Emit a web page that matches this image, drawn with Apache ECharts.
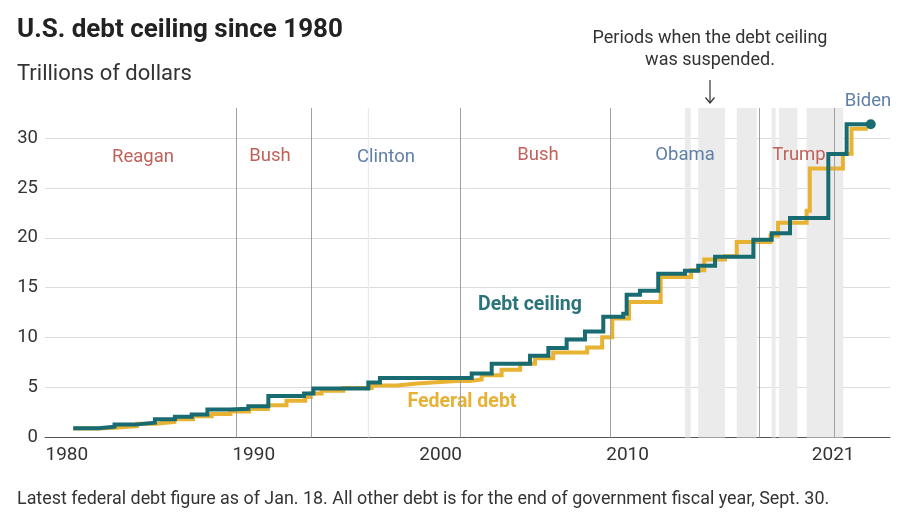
<!DOCTYPE html>
<html><head><meta charset="utf-8">
<script src="https://cdn.jsdelivr.net/npm/echarts@6/dist/echarts.min.js"></script>
<style>html,body{margin:0;padding:0;background:#fff}#c{width:900px;height:518px}</style>
</head><body><div id="c"></div>
<script>
// ---- data (decimal years, trillions of dollars) ----
const ceilingYears  = [1980.34, 1981.68, 1982.55, 1983.64, 1984.71, 1985.78, 1986.68, 1987.52, 1988.7, 1989.71, 1990.78, 1992.69, 1993.19, 1996.13, 1996.75, 2001.66, 2002.73, 2004.78, 2005.76, 2006.74, 2007.72, 2008.70, 2009.77, 2009.95, 2010.66, 2011.64, 2013.07, 2013.78, 2014.68, 2016.73, 2017.71, 2018.69, 2020.74, 2021.72, 2023.01];
const ceilingValues = [0.92, 1.08, 1.29, 1.49, 1.82, 2.08, 2.30, 2.80, 2.87, 3.12, 4.15, 4.40, 4.90, 5.50, 5.95, 6.40, 7.38, 8.18, 8.97, 9.82, 10.62, 12.10, 12.40, 14.29, 14.69, 16.39, 16.70, 17.21, 18.11, 19.81, 20.46, 21.99, 28.40, 31.38, 31.38];

const debtYears  = [1980.34, 1981.75, 1982.75, 1983.75, 1984.75, 1985.75, 1986.75, 1987.75, 1988.75, 1989.75, 1990.75, 1991.75, 1992.75, 1993.05, 1993.63, 1994.79, 1996.31, 1997.65, 1998.75, 1999.75, 2000.86, 2001.55, 2002.19, 2003.26, 2004.25, 2005.05, 2006.02, 2007.84, 2008.64, 2009.18, 2010.08, 2011.77, 2013.40, 2014.10, 2015.21, 2015.84, 2017.65, 2018.05, 2019.58, 2019.75, 2021.52, 2021.98, 2022.86];
const debtValues = [0.91, 1.00, 1.14, 1.38, 1.57, 1.82, 2.13, 2.35, 2.60, 2.86, 3.23, 3.67, 4.06, 4.41, 4.69, 4.97, 5.22, 5.41, 5.53, 5.66, 5.67, 5.81, 6.23, 6.78, 7.38, 7.93, 8.51, 9.01, 10.03, 11.91, 13.56, 16.07, 16.74, 17.82, 18.15, 19.57, 20.24, 21.52, 22.72, 26.95, 28.43, 30.93, 30.93];

const suspensionStarts = [1996.10, 2013.07, 2013.78, 2015.84, 2017.71, 2018.10, 2019.58];
const suspensionEnds   = [1996.17, 2013.38, 2015.21, 2016.91, 2017.92, 2019.08, 2021.54];

const presidentStarts = [1989.05, 1993.05, 2001.05, 2009.05, 2017.05, 2021.05];
const presidentNames  = ['Reagan', 'Bush', 'Clinton', 'Bush', 'Obama', 'Trump', 'Biden'];
const presidentParty  = ['R', 'R', 'D', 'R', 'D', 'R', 'D'];

const xTickLabels = [1980, 1990, 2000, 2010, 2021];
const yTickLabels = [0, 5, 10, 15, 20, 25, 30];

// ---- derived structures ----
const TEAL = '#186b70', GOLD = '#e8b232', RED = '#c0625a', BLUE = '#5f7fa8';
const pairs = (xs, vs) => xs.map((x, i) => [x, vs[i]]);
function stepAt(xs, vs, x) { let v = null; for (let i = 0; i < xs.length; i++) { if (xs[i] <= x + 1e-9) v = vs[i]; else break; } return v; }
const lo = Math.max(ceilingYears[0], debtYears[0]);
const hi = Math.min(ceilingYears[ceilingYears.length - 1], debtYears[debtYears.length - 1]);
const union = Array.from(new Set(ceilingYears.concat(debtYears).filter(x => x >= lo && x <= hi))).sort((a, b) => a - b);
const fillLow = union.map(x => [x, Math.min(stepAt(ceilingYears, ceilingValues, x), stepAt(debtYears, debtValues, x))]);
const fillGap = union.map(x => [x, Math.abs(stepAt(ceilingYears, ceilingValues, x) - stepAt(debtYears, debtValues, x))]);

const chart = echarts.init(document.getElementById('c'), null, { renderer: 'canvas' });
const FONT = 'Roboto, "Open Sans", sans-serif';

const presLabelPos = [[143, 157], [270, 156], [386, 157], [538, 155], [685, 155], [799, 155], [868, 101]];
const graphics = [
  { type: 'text', x: 17, y: 30, style: { text: 'U.S. debt ceiling since 1980', font: '700 26px ' + FONT, fill: '#222', textVerticalAlign: 'middle' } },
  { type: 'text', x: 17, y: 74, style: { text: 'Trillions of dollars', font: '400 22px ' + FONT, fill: '#333', textVerticalAlign: 'middle' } },
  { type: 'text', x: 17, y: 500, style: { text: 'Latest federal debt figure as of Jan. 18. All other debt is for the end of government fiscal year, Sept. 30.', font: '400 17.9px ' + FONT, fill: '#333', textVerticalAlign: 'middle' } },
  { type: 'text', x: 710, y: 38, style: { text: 'Periods when the debt ceiling', font: '400 18px ' + FONT, fill: '#333', textAlign: 'center', textVerticalAlign: 'middle' } },
  { type: 'text', x: 710, y: 60, style: { text: 'was suspended.', font: '400 18px ' + FONT, fill: '#333', textAlign: 'center', textVerticalAlign: 'middle' } },
  { type: 'line', shape: { x1: 710, y1: 80, x2: 710, y2: 103 }, style: { stroke: '#333', lineWidth: 1.2 } },
  { type: 'polyline', shape: { points: [[705.5, 97.5], [710, 103], [714.5, 97.5]] }, style: { stroke: '#333', lineWidth: 1.2, fill: null } },
  { type: 'text', x: 530, y: 305, style: { text: 'Debt ceiling', font: '700 19.5px ' + FONT, fill: '#2b7479', textAlign: 'center', textVerticalAlign: 'middle' } },
  { type: 'text', x: 462, y: 402, style: { text: 'Federal debt', font: '700 19.5px ' + FONT, fill: '#e6b236', textAlign: 'center', textVerticalAlign: 'middle' } }
];
presidentNames.forEach((n, i) => {
  graphics.push({ type: 'text', x: presLabelPos[i][0], y: presLabelPos[i][1], z: 50,
    style: { text: n, font: '400 18.5px ' + FONT, fill: presidentParty[i] === 'R' ? RED : BLUE, textAlign: 'center', textVerticalAlign: 'middle' } });
});

const option = {
  animation: false,
  backgroundColor: '#fff',
  grid: { left: 45, right: 10, top: 108, bottom: 80.5, containLabel: false },
  xAxis: {
    type: 'value', min: 1978.83, max: 2024.04,
    axisLine: { show: true, lineStyle: { color: '#555', width: 1 } },
    axisTick: { show: false, customValues: xTickLabels },
    splitLine: { show: false },
    axisLabel: { customValues: xTickLabels, color: '#333', fontSize: 19, fontFamily: FONT, margin: 8, formatter: v => String(v) }
  },
  yAxis: {
    type: 'value', min: 0, max: 33,
    axisLine: { show: false },
    axisTick: { show: false, customValues: yTickLabels },
    splitLine: { show: true, lineStyle: { color: '#dcdcdc', width: 1 } },
    axisLabel: { customValues: yTickLabels, color: '#333', fontSize: 18.5, fontFamily: FONT, margin: 7 }
  },
  graphic: graphics,
  series: [
    { type: 'line', name: 'bands', data: [], z: 1, silent: true,
      markArea: { silent: true, itemStyle: { color: '#ebebeb' },
        data: suspensionStarts.map((s, i) => [{ xAxis: s }, { xAxis: suspensionEnds[i] }]) } },
    { type: 'line', name: 'presidents', data: [], z: 2, silent: true,
      markLine: { silent: true, symbol: ['none', 'none'], label: { show: false },
        lineStyle: { color: '#a0a0a0', width: 1, type: 'solid' },
        data: presidentStarts.map(x => ({ xAxis: x })) } },
    { type: 'line', name: 'fillLow', data: fillLow, stack: 'gap', step: 'end', symbol: 'none', z: 3, silent: true,
      lineStyle: { width: 0, opacity: 0 } },
    { type: 'line', name: 'fillGap', data: fillGap, stack: 'gap', step: 'end', symbol: 'none', z: 3, silent: true,
      lineStyle: { width: 0, opacity: 0 }, areaStyle: { color: '#ebebeb', opacity: 1 } },
    { type: 'line', name: 'Federal debt', data: pairs(debtYears, debtValues), step: 'end', symbol: 'none', z: 4,
      lineStyle: { color: GOLD, width: 4, join: 'miter', cap: 'butt' } },
    { type: 'line', name: 'Debt ceiling', data: pairs(ceilingYears, ceilingValues), step: 'end', z: 5,
      symbol: (v, p) => p.dataIndex === ceilingYears.length - 1 ? 'circle' : 'none', symbolSize: 10,
      showAllSymbol: true,
      itemStyle: { color: TEAL },
      lineStyle: { color: TEAL, width: 4, join: 'miter', cap: 'butt' } }
  ]
};
chart.setOption(option);
</script></body></html>
